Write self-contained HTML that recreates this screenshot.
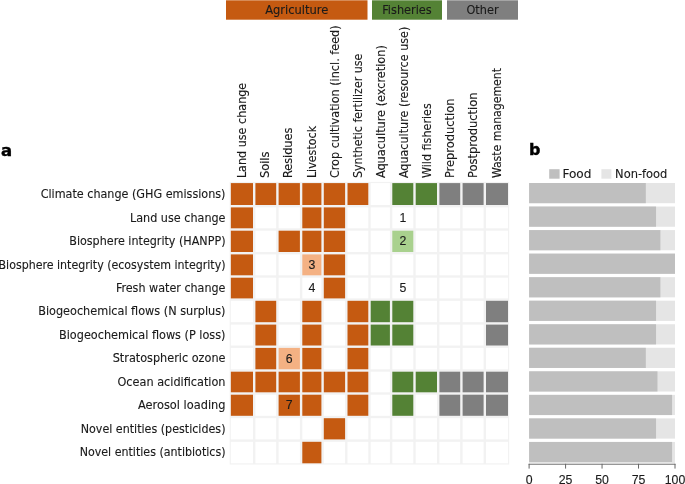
<!DOCTYPE html><html><head><meta charset="utf-8"><style>html,body{margin:0;padding:0;background:#fff;}svg{display:block;} rect{stroke:none;}</style></head><body>
<svg width="685" height="484" viewBox="0 0 685 484" font-family='"DejaVu Sans Condensed", "DejaVu Sans", "Liberation Sans", sans-serif' font-size="12.3" fill="#1A1A1A" stroke="#1A1A1A" stroke-width="0.12">
<rect x="226" y="0.3" width="141.50" height="19.4" fill="#C55A11"/>
<text x="296.75" y="13.9" text-anchor="middle" textLength="63.2" lengthAdjust="spacingAndGlyphs">Agriculture</text>
<rect x="372" y="0.3" width="70.00" height="19.4" fill="#548235"/>
<text x="407.00" y="13.9" text-anchor="middle" textLength="49.5" lengthAdjust="spacingAndGlyphs">Fisheries</text>
<rect x="447" y="0.3" width="71.00" height="19.4" fill="#7F7F7F"/>
<text x="482.50" y="13.9" text-anchor="middle" textLength="32.1" lengthAdjust="spacingAndGlyphs">Other</text>
<text transform="translate(246.30,178.1) rotate(-90)" textLength="95.3" lengthAdjust="spacingAndGlyphs">Land use change</text>
<text transform="translate(269.30,178.1) rotate(-90)" textLength="26.6" lengthAdjust="spacingAndGlyphs">Soils</text>
<text transform="translate(292.30,178.1) rotate(-90)" textLength="50.5" lengthAdjust="spacingAndGlyphs">Residues</text>
<text transform="translate(316.00,178.1) rotate(-90)" textLength="52.25" lengthAdjust="spacingAndGlyphs">Livestock</text>
<text transform="translate(338.50,178.1) rotate(-90)" textLength="152.7" lengthAdjust="spacingAndGlyphs">Crop cultivation (incl. feed)</text>
<text transform="translate(362.00,178.1) rotate(-90)" textLength="124.3" lengthAdjust="spacingAndGlyphs">Synthetic fertilizer use</text>
<text transform="translate(384.80,178.1) rotate(-90)" textLength="132.9" lengthAdjust="spacingAndGlyphs">Aquaculture (excretion)</text>
<text transform="translate(408.10,178.1) rotate(-90)" textLength="151.4" lengthAdjust="spacingAndGlyphs">Aquaculture (resource use)</text>
<text transform="translate(430.90,178.1) rotate(-90)" textLength="74.9" lengthAdjust="spacingAndGlyphs">Wild fisheries</text>
<text transform="translate(454.20,178.1) rotate(-90)" textLength="79.6" lengthAdjust="spacingAndGlyphs">Preproduction</text>
<text transform="translate(477.10,178.1) rotate(-90)" textLength="85.7" lengthAdjust="spacingAndGlyphs">Postproduction</text>
<text transform="translate(500.70,178.1) rotate(-90)" textLength="110.1" lengthAdjust="spacingAndGlyphs">Waste management</text>
<text x="1" y="155.5" font-family='"DejaVu Sans", sans-serif' font-weight="bold" font-size="16.5" fill="#000" stroke="#000" stroke-width="0.4">a</text>
<text x="529" y="155.2" font-family='"DejaVu Sans", sans-serif' font-weight="bold" font-size="16" fill="#000" stroke="#000" stroke-width="0.4">b</text>
<rect x="229.65" y="181.90" width="279.55" height="282.60" fill="#F2F2F2"/>
<rect x="230.85" y="183.10" width="22.15" height="21.90" fill="#C55A11"/>
<rect x="255.40" y="183.10" width="20.80" height="21.90" fill="#C55A11"/>
<rect x="278.60" y="183.10" width="21.30" height="21.90" fill="#C55A11"/>
<rect x="302.30" y="183.10" width="19.10" height="21.90" fill="#C55A11"/>
<rect x="323.80" y="183.10" width="21.30" height="21.90" fill="#C55A11"/>
<rect x="347.50" y="183.10" width="20.80" height="21.90" fill="#C55A11"/>
<rect x="370.70" y="183.10" width="19.20" height="21.90" fill="#FFFFFF"/>
<rect x="392.30" y="183.10" width="21.00" height="21.90" fill="#548235"/>
<rect x="415.70" y="183.10" width="21.30" height="21.90" fill="#548235"/>
<rect x="439.40" y="183.10" width="20.80" height="21.90" fill="#7F7F7F"/>
<rect x="462.60" y="183.10" width="21.00" height="21.90" fill="#7F7F7F"/>
<rect x="486.00" y="183.10" width="22.00" height="21.90" fill="#7F7F7F"/>
<rect x="230.85" y="207.40" width="22.15" height="20.90" fill="#C55A11"/>
<rect x="255.40" y="207.40" width="20.80" height="20.90" fill="#FFFFFF"/>
<rect x="278.60" y="207.40" width="21.30" height="20.90" fill="#FFFFFF"/>
<rect x="302.30" y="207.40" width="19.10" height="20.90" fill="#C55A11"/>
<rect x="323.80" y="207.40" width="21.30" height="20.90" fill="#C55A11"/>
<rect x="347.50" y="207.40" width="20.80" height="20.90" fill="#FFFFFF"/>
<rect x="370.70" y="207.40" width="19.20" height="20.90" fill="#FFFFFF"/>
<rect x="392.30" y="207.40" width="21.00" height="20.90" fill="#FFFFFF"/>
<text x="402.80" y="221.75" text-anchor="middle" font-family='"Liberation Sans", sans-serif'>1</text>
<rect x="415.70" y="207.40" width="21.30" height="20.90" fill="#FFFFFF"/>
<rect x="439.40" y="207.40" width="20.80" height="20.90" fill="#FFFFFF"/>
<rect x="462.60" y="207.40" width="21.00" height="20.90" fill="#FFFFFF"/>
<rect x="486.00" y="207.40" width="22.00" height="20.90" fill="#FFFFFF"/>
<rect x="230.85" y="230.70" width="22.15" height="21.30" fill="#C55A11"/>
<rect x="255.40" y="230.70" width="20.80" height="21.30" fill="#FFFFFF"/>
<rect x="278.60" y="230.70" width="21.30" height="21.30" fill="#C55A11"/>
<rect x="302.30" y="230.70" width="19.10" height="21.30" fill="#C55A11"/>
<rect x="323.80" y="230.70" width="21.30" height="21.30" fill="#C55A11"/>
<rect x="347.50" y="230.70" width="20.80" height="21.30" fill="#FFFFFF"/>
<rect x="370.70" y="230.70" width="19.20" height="21.30" fill="#FFFFFF"/>
<rect x="392.30" y="230.70" width="21.00" height="21.30" fill="#A9D18E"/>
<text x="402.80" y="245.25" text-anchor="middle" font-family='"Liberation Sans", sans-serif'>2</text>
<rect x="415.70" y="230.70" width="21.30" height="21.30" fill="#FFFFFF"/>
<rect x="439.40" y="230.70" width="20.80" height="21.30" fill="#FFFFFF"/>
<rect x="462.60" y="230.70" width="21.00" height="21.30" fill="#FFFFFF"/>
<rect x="486.00" y="230.70" width="22.00" height="21.30" fill="#FFFFFF"/>
<rect x="230.85" y="254.40" width="22.15" height="20.90" fill="#C55A11"/>
<rect x="255.40" y="254.40" width="20.80" height="20.90" fill="#FFFFFF"/>
<rect x="278.60" y="254.40" width="21.30" height="20.90" fill="#FFFFFF"/>
<rect x="302.30" y="254.40" width="19.10" height="20.90" fill="#F4B183"/>
<text x="311.85" y="268.75" text-anchor="middle" font-family='"Liberation Sans", sans-serif'>3</text>
<rect x="323.80" y="254.40" width="21.30" height="20.90" fill="#C55A11"/>
<rect x="347.50" y="254.40" width="20.80" height="20.90" fill="#FFFFFF"/>
<rect x="370.70" y="254.40" width="19.20" height="20.90" fill="#FFFFFF"/>
<rect x="392.30" y="254.40" width="21.00" height="20.90" fill="#FFFFFF"/>
<rect x="415.70" y="254.40" width="21.30" height="20.90" fill="#FFFFFF"/>
<rect x="439.40" y="254.40" width="20.80" height="20.90" fill="#FFFFFF"/>
<rect x="462.60" y="254.40" width="21.00" height="20.90" fill="#FFFFFF"/>
<rect x="486.00" y="254.40" width="22.00" height="20.90" fill="#FFFFFF"/>
<rect x="230.85" y="277.70" width="22.15" height="20.70" fill="#C55A11"/>
<rect x="255.40" y="277.70" width="20.80" height="20.70" fill="#FFFFFF"/>
<rect x="278.60" y="277.70" width="21.30" height="20.70" fill="#FFFFFF"/>
<rect x="302.30" y="277.70" width="19.10" height="20.70" fill="#FFFFFF"/>
<text x="311.85" y="291.95" text-anchor="middle" font-family='"Liberation Sans", sans-serif'>4</text>
<rect x="323.80" y="277.70" width="21.30" height="20.70" fill="#C55A11"/>
<rect x="347.50" y="277.70" width="20.80" height="20.70" fill="#FFFFFF"/>
<rect x="370.70" y="277.70" width="19.20" height="20.70" fill="#FFFFFF"/>
<rect x="392.30" y="277.70" width="21.00" height="20.70" fill="#FFFFFF"/>
<text x="402.80" y="291.95" text-anchor="middle" font-family='"Liberation Sans", sans-serif'>5</text>
<rect x="415.70" y="277.70" width="21.30" height="20.70" fill="#FFFFFF"/>
<rect x="439.40" y="277.70" width="20.80" height="20.70" fill="#FFFFFF"/>
<rect x="462.60" y="277.70" width="21.00" height="20.70" fill="#FFFFFF"/>
<rect x="486.00" y="277.70" width="22.00" height="20.70" fill="#FFFFFF"/>
<rect x="230.85" y="300.80" width="22.15" height="21.40" fill="#FFFFFF"/>
<rect x="255.40" y="300.80" width="20.80" height="21.40" fill="#C55A11"/>
<rect x="278.60" y="300.80" width="21.30" height="21.40" fill="#FFFFFF"/>
<rect x="302.30" y="300.80" width="19.10" height="21.40" fill="#C55A11"/>
<rect x="323.80" y="300.80" width="21.30" height="21.40" fill="#FFFFFF"/>
<rect x="347.50" y="300.80" width="20.80" height="21.40" fill="#C55A11"/>
<rect x="370.70" y="300.80" width="19.20" height="21.40" fill="#548235"/>
<rect x="392.30" y="300.80" width="21.00" height="21.40" fill="#548235"/>
<rect x="415.70" y="300.80" width="21.30" height="21.40" fill="#FFFFFF"/>
<rect x="439.40" y="300.80" width="20.80" height="21.40" fill="#FFFFFF"/>
<rect x="462.60" y="300.80" width="21.00" height="21.40" fill="#FFFFFF"/>
<rect x="486.00" y="300.80" width="22.00" height="21.40" fill="#7F7F7F"/>
<rect x="230.85" y="324.60" width="22.15" height="20.90" fill="#FFFFFF"/>
<rect x="255.40" y="324.60" width="20.80" height="20.90" fill="#C55A11"/>
<rect x="278.60" y="324.60" width="21.30" height="20.90" fill="#FFFFFF"/>
<rect x="302.30" y="324.60" width="19.10" height="20.90" fill="#C55A11"/>
<rect x="323.80" y="324.60" width="21.30" height="20.90" fill="#FFFFFF"/>
<rect x="347.50" y="324.60" width="20.80" height="20.90" fill="#C55A11"/>
<rect x="370.70" y="324.60" width="19.20" height="20.90" fill="#548235"/>
<rect x="392.30" y="324.60" width="21.00" height="20.90" fill="#548235"/>
<rect x="415.70" y="324.60" width="21.30" height="20.90" fill="#FFFFFF"/>
<rect x="439.40" y="324.60" width="20.80" height="20.90" fill="#FFFFFF"/>
<rect x="462.60" y="324.60" width="21.00" height="20.90" fill="#FFFFFF"/>
<rect x="486.00" y="324.60" width="22.00" height="20.90" fill="#7F7F7F"/>
<rect x="230.85" y="347.90" width="22.15" height="21.40" fill="#FFFFFF"/>
<rect x="255.40" y="347.90" width="20.80" height="21.40" fill="#C55A11"/>
<rect x="278.60" y="347.90" width="21.30" height="21.40" fill="#F4B183"/>
<text x="289.25" y="362.50" text-anchor="middle" font-family='"Liberation Sans", sans-serif'>6</text>
<rect x="302.30" y="347.90" width="19.10" height="21.40" fill="#C55A11"/>
<rect x="323.80" y="347.90" width="21.30" height="21.40" fill="#FFFFFF"/>
<rect x="347.50" y="347.90" width="20.80" height="21.40" fill="#C55A11"/>
<rect x="370.70" y="347.90" width="19.20" height="21.40" fill="#FFFFFF"/>
<rect x="392.30" y="347.90" width="21.00" height="21.40" fill="#FFFFFF"/>
<rect x="415.70" y="347.90" width="21.30" height="21.40" fill="#FFFFFF"/>
<rect x="439.40" y="347.90" width="20.80" height="21.40" fill="#FFFFFF"/>
<rect x="462.60" y="347.90" width="21.00" height="21.40" fill="#FFFFFF"/>
<rect x="486.00" y="347.90" width="22.00" height="21.40" fill="#FFFFFF"/>
<rect x="230.85" y="371.70" width="22.15" height="20.60" fill="#C55A11"/>
<rect x="255.40" y="371.70" width="20.80" height="20.60" fill="#C55A11"/>
<rect x="278.60" y="371.70" width="21.30" height="20.60" fill="#C55A11"/>
<rect x="302.30" y="371.70" width="19.10" height="20.60" fill="#C55A11"/>
<rect x="323.80" y="371.70" width="21.30" height="20.60" fill="#C55A11"/>
<rect x="347.50" y="371.70" width="20.80" height="20.60" fill="#C55A11"/>
<rect x="370.70" y="371.70" width="19.20" height="20.60" fill="#FFFFFF"/>
<rect x="392.30" y="371.70" width="21.00" height="20.60" fill="#548235"/>
<rect x="415.70" y="371.70" width="21.30" height="20.60" fill="#548235"/>
<rect x="439.40" y="371.70" width="20.80" height="20.60" fill="#7F7F7F"/>
<rect x="462.60" y="371.70" width="21.00" height="20.60" fill="#7F7F7F"/>
<rect x="486.00" y="371.70" width="22.00" height="20.60" fill="#7F7F7F"/>
<rect x="230.85" y="394.70" width="22.15" height="21.10" fill="#C55A11"/>
<rect x="255.40" y="394.70" width="20.80" height="21.10" fill="#FFFFFF"/>
<rect x="278.60" y="394.70" width="21.30" height="21.10" fill="#C55A11"/>
<text x="289.25" y="409.15" text-anchor="middle" font-family='"Liberation Sans", sans-serif'>7</text>
<rect x="302.30" y="394.70" width="19.10" height="21.10" fill="#C55A11"/>
<rect x="323.80" y="394.70" width="21.30" height="21.10" fill="#FFFFFF"/>
<rect x="347.50" y="394.70" width="20.80" height="21.10" fill="#C55A11"/>
<rect x="370.70" y="394.70" width="19.20" height="21.10" fill="#FFFFFF"/>
<rect x="392.30" y="394.70" width="21.00" height="21.10" fill="#548235"/>
<rect x="415.70" y="394.70" width="21.30" height="21.10" fill="#FFFFFF"/>
<rect x="439.40" y="394.70" width="20.80" height="21.10" fill="#7F7F7F"/>
<rect x="462.60" y="394.70" width="21.00" height="21.10" fill="#7F7F7F"/>
<rect x="486.00" y="394.70" width="22.00" height="21.10" fill="#7F7F7F"/>
<rect x="230.85" y="418.20" width="22.15" height="21.20" fill="#FFFFFF"/>
<rect x="255.40" y="418.20" width="20.80" height="21.20" fill="#FFFFFF"/>
<rect x="278.60" y="418.20" width="21.30" height="21.20" fill="#FFFFFF"/>
<rect x="302.30" y="418.20" width="19.10" height="21.20" fill="#FFFFFF"/>
<rect x="323.80" y="418.20" width="21.30" height="21.20" fill="#C55A11"/>
<rect x="347.50" y="418.20" width="20.80" height="21.20" fill="#FFFFFF"/>
<rect x="370.70" y="418.20" width="19.20" height="21.20" fill="#FFFFFF"/>
<rect x="392.30" y="418.20" width="21.00" height="21.20" fill="#FFFFFF"/>
<rect x="415.70" y="418.20" width="21.30" height="21.20" fill="#FFFFFF"/>
<rect x="439.40" y="418.20" width="20.80" height="21.20" fill="#FFFFFF"/>
<rect x="462.60" y="418.20" width="21.00" height="21.20" fill="#FFFFFF"/>
<rect x="486.00" y="418.20" width="22.00" height="21.20" fill="#FFFFFF"/>
<rect x="230.85" y="441.80" width="22.15" height="21.50" fill="#FFFFFF"/>
<rect x="255.40" y="441.80" width="20.80" height="21.50" fill="#FFFFFF"/>
<rect x="278.60" y="441.80" width="21.30" height="21.50" fill="#FFFFFF"/>
<rect x="302.30" y="441.80" width="19.10" height="21.50" fill="#C55A11"/>
<rect x="323.80" y="441.80" width="21.30" height="21.50" fill="#FFFFFF"/>
<rect x="347.50" y="441.80" width="20.80" height="21.50" fill="#FFFFFF"/>
<rect x="370.70" y="441.80" width="19.20" height="21.50" fill="#FFFFFF"/>
<rect x="392.30" y="441.80" width="21.00" height="21.50" fill="#FFFFFF"/>
<rect x="415.70" y="441.80" width="21.30" height="21.50" fill="#FFFFFF"/>
<rect x="439.40" y="441.80" width="20.80" height="21.50" fill="#FFFFFF"/>
<rect x="462.60" y="441.80" width="21.00" height="21.50" fill="#FFFFFF"/>
<rect x="486.00" y="441.80" width="22.00" height="21.50" fill="#FFFFFF"/>
<text x="225.5" y="198.30" text-anchor="end" textLength="184.85" lengthAdjust="spacingAndGlyphs">Climate change (GHG emissions)</text>
<text x="225.5" y="221.73" text-anchor="end" textLength="95.5" lengthAdjust="spacingAndGlyphs">Land use change</text>
<text x="225.5" y="245.16" text-anchor="end" textLength="156.25" lengthAdjust="spacingAndGlyphs">Biosphere integrity (HANPP)</text>
<text x="225.5" y="268.59" text-anchor="end" textLength="227.0" lengthAdjust="spacingAndGlyphs">Biosphere integrity (ecosystem integrity)</text>
<text x="225.5" y="292.02" text-anchor="end" textLength="109.6" lengthAdjust="spacingAndGlyphs">Fresh water change</text>
<text x="225.5" y="315.45" text-anchor="end" textLength="187.3" lengthAdjust="spacingAndGlyphs">Biogeochemical flows (N surplus)</text>
<text x="225.5" y="338.88" text-anchor="end" textLength="166.5" lengthAdjust="spacingAndGlyphs">Biogeochemical flows (P loss)</text>
<text x="225.5" y="362.31" text-anchor="end" textLength="112.8" lengthAdjust="spacingAndGlyphs">Stratospheric ozone</text>
<text x="225.5" y="385.74" text-anchor="end" textLength="108.0" lengthAdjust="spacingAndGlyphs">Ocean acidification</text>
<text x="225.5" y="409.17" text-anchor="end" textLength="87.5" lengthAdjust="spacingAndGlyphs">Aerosol loading</text>
<text x="225.5" y="432.60" text-anchor="end" textLength="144.8" lengthAdjust="spacingAndGlyphs">Novel entities (pesticides)</text>
<text x="225.5" y="456.03" text-anchor="end" textLength="145.8" lengthAdjust="spacingAndGlyphs">Novel entities (antibiotics)</text>
<rect x="529.1" y="183.00" width="145.90" height="20.2" fill="#E5E5E5"/>
<rect x="529.1" y="183.00" width="116.72" height="20.2" fill="#BFBFBF"/>
<rect x="529.1" y="206.54" width="145.90" height="20.2" fill="#E5E5E5"/>
<rect x="529.1" y="206.54" width="126.93" height="20.2" fill="#BFBFBF"/>
<rect x="529.1" y="230.08" width="145.90" height="20.2" fill="#E5E5E5"/>
<rect x="529.1" y="230.08" width="131.31" height="20.2" fill="#BFBFBF"/>
<rect x="529.1" y="253.62" width="145.90" height="20.2" fill="#E5E5E5"/>
<rect x="529.1" y="253.62" width="145.90" height="20.2" fill="#BFBFBF"/>
<rect x="529.1" y="277.16" width="145.90" height="20.2" fill="#E5E5E5"/>
<rect x="529.1" y="277.16" width="131.31" height="20.2" fill="#BFBFBF"/>
<rect x="529.1" y="300.70" width="145.90" height="20.2" fill="#E5E5E5"/>
<rect x="529.1" y="300.70" width="126.93" height="20.2" fill="#BFBFBF"/>
<rect x="529.1" y="324.24" width="145.90" height="20.2" fill="#E5E5E5"/>
<rect x="529.1" y="324.24" width="126.93" height="20.2" fill="#BFBFBF"/>
<rect x="529.1" y="347.78" width="145.90" height="20.2" fill="#E5E5E5"/>
<rect x="529.1" y="347.78" width="116.72" height="20.2" fill="#BFBFBF"/>
<rect x="529.1" y="371.32" width="145.90" height="20.2" fill="#E5E5E5"/>
<rect x="529.1" y="371.32" width="128.39" height="20.2" fill="#BFBFBF"/>
<rect x="529.1" y="394.86" width="145.90" height="20.2" fill="#E5E5E5"/>
<rect x="529.1" y="394.86" width="142.98" height="20.2" fill="#BFBFBF"/>
<rect x="529.1" y="418.40" width="145.90" height="20.2" fill="#E5E5E5"/>
<rect x="529.1" y="418.40" width="126.93" height="20.2" fill="#BFBFBF"/>
<rect x="529.1" y="441.94" width="145.90" height="20.2" fill="#E5E5E5"/>
<rect x="529.1" y="441.94" width="142.98" height="20.2" fill="#BFBFBF"/>
<rect x="549.2" y="169.2" width="10.4" height="9.5" fill="#BFBFBF"/>
<text x="562.4" y="177.6" textLength="29" lengthAdjust="spacingAndGlyphs">Food</text>
<rect x="601.4" y="169.2" width="10" height="9.5" fill="#E5E5E5"/>
<text x="615.1" y="177.6" textLength="52.3" lengthAdjust="spacingAndGlyphs">Non-food</text>
<rect x="529.1" y="462.1" width="145.90" height="1.8" fill="#E4E4E4"/>
<line x1="528.6" y1="464.35" x2="675.5" y2="464.35" stroke="#858585" stroke-width="1"/>
<line x1="529.10" y1="463.8" x2="529.10" y2="468.6" stroke="#666666" stroke-width="1"/>
<text x="529.10" y="483.6" text-anchor="middle" font-family='"Liberation Sans", sans-serif'>0</text>
<line x1="565.58" y1="463.8" x2="565.58" y2="468.6" stroke="#666666" stroke-width="1"/>
<text x="565.58" y="483.6" text-anchor="middle" font-family='"Liberation Sans", sans-serif'>25</text>
<line x1="602.05" y1="463.8" x2="602.05" y2="468.6" stroke="#666666" stroke-width="1"/>
<text x="602.05" y="483.6" text-anchor="middle" font-family='"Liberation Sans", sans-serif'>50</text>
<line x1="638.52" y1="463.8" x2="638.52" y2="468.6" stroke="#666666" stroke-width="1"/>
<text x="638.52" y="483.6" text-anchor="middle" font-family='"Liberation Sans", sans-serif'>75</text>
<line x1="675.00" y1="463.8" x2="675.00" y2="468.6" stroke="#666666" stroke-width="1"/>
<text x="675.00" y="483.6" text-anchor="middle" font-family='"Liberation Sans", sans-serif'>100</text>
</svg></body></html>
